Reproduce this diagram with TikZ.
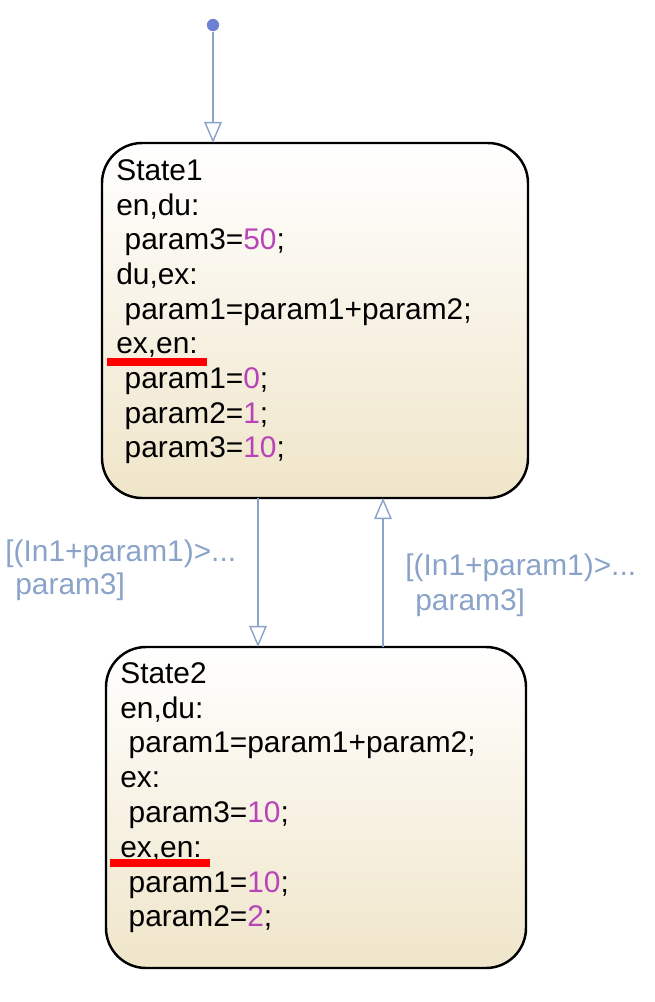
\documentclass[tikz,border=0pt]{standalone}
\usepackage{fontspec}
\setmainfont{Liberation Sans}
\usetikzlibrary{arrows.meta}
\definecolor{trans}{HTML}{8AA3C8}
\definecolor{numc}{HTML}{B844B8}
\definecolor{beige}{HTML}{EFE5C9}
\tikzset{
  statebox/.style={draw=black, line width=1.4pt, rounded corners=0.8cm, top color=white, bottom color=beige},
  line/.style={anchor=west, inner sep=0pt, font=\fontsize{17}{18}\selectfont},
  translabel/.style={anchor=west, inner sep=0pt, text=trans, font=\fontsize{17}{18}\selectfont},
  trarrow/.style={draw=trans, line width=0.8pt, -{Triangle[open,length=12pt,width=10pt]}},
  redbar/.style={fill=red, draw=none}
}
\newcommand{\num}[1]{\textcolor{numc}{#1}}
\begin{document}
\begin{tikzpicture}[x=0.02cm,y=-0.02cm]
  \useasboundingbox (0,0) rectangle (655,1002);
  \fill[white] (0,0) rectangle (655,1002);

  % states
  \path[statebox] (102,143) rectangle (528,498);
  \path[statebox] (106,647) rectangle (526,968);
  \coordinate (s1top) at (213,143);
  \coordinate (s1bl) at (258,498);
  \coordinate (s1br) at (383,498);
  \coordinate (s2tl) at (258,647);
  \coordinate (s2tr) at (383,647);

  % default transition
  \node[circle, fill=trans!80!blue, inner sep=0pt, minimum size=7pt] (init) at (213,25) {};
  \draw[trarrow] (init) -- (s1top);
  \draw[trarrow] (s1bl) -- (s2tl);
  \draw[trarrow] (s2tr) -- (s1br);

  % State1 text
  \foreach \txt [count=\i] in {State1, {en,du:}, { param3=\num{50};}, {du,ex:}, { param1=param1+param2;}, {ex,en:}, { param1=\num{0};}, { param2=\num{1};}, { param3=\num{10};}}
    \node[line] (sa\i) at (116,{174+34.7*(\i-1)}) {\strut\txt};
  \fill[redbar] (107,358) rectangle (207,366);

  % State2 text
  \foreach \txt [count=\i] in {State2, {en,du:}, { param1=param1+param2;}, {ex:}, { param3=\num{10};}, {ex,en:}, { param1=\num{10};}, { param2=\num{2};}}
    \node[line] (sb\i) at (120,{677+34.8*(\i-1)}) {\strut\txt};
  \fill[redbar] (110,859) rectangle (210,867);

  % guards
  \node[translabel] (ga1) at (5,554) {[(In1+param1)>...};
  \node[translabel] (ga2) at (15,587) {param3]};
  \node[translabel] (gb1) at (405,568) {[(In1+param1)>...};
  \node[translabel] (gb2) at (415,603) {param3]};
\end{tikzpicture}
\end{document}
